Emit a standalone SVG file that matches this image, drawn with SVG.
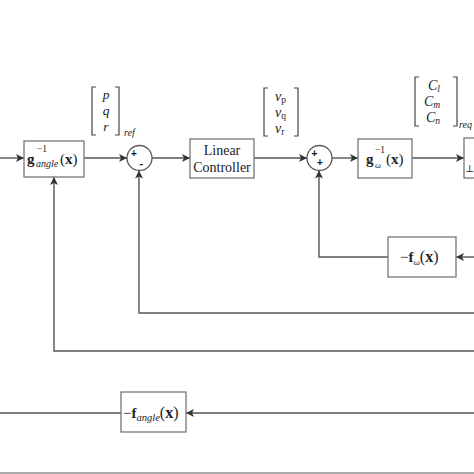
<svg xmlns="http://www.w3.org/2000/svg" width="474" height="474" viewBox="0 0 474 474">
<style>
.box{fill:#fff;stroke:#777;stroke-width:1.3}
.ln{fill:none;stroke:#555;stroke-width:1.4}
.br{fill:none;stroke:#444;stroke-width:1.2}
.m{font-family:"Liberation Serif","DejaVu Serif",serif;fill:#222}
.i{font-style:italic}
.b{font-weight:bold}
.s{font-family:"Liberation Sans",Arial,sans-serif;fill:#111;font-weight:bold}
</style>
<defs>
<marker id="ah" viewBox="0 0 10 10" refX="10" refY="5" markerWidth="9" markerHeight="8" markerUnits="userSpaceOnUse" orient="auto">
<path d="M0,0 L10,5 L0,10 L2.5,5 Z" fill="#333"/>
</marker>
</defs>
<rect width="474" height="474" fill="#fff"/>
<g id="connectors">
<path class="ln" d="M0,158 H24" marker-end="url(#ah)"/>
<path class="ln" d="M84,158 H127" marker-end="url(#ah)"/>
<path class="ln" d="M152,158 H190" marker-end="url(#ah)"/>
<path class="ln" d="M254,158 H307" marker-end="url(#ah)"/>
<path class="ln" d="M332,158 H358" marker-end="url(#ah)"/>
<path class="ln" d="M412,158 H464" marker-end="url(#ah)"/>
<path class="ln" d="M474,257 H456" marker-end="url(#ah)"/>
<path class="ln" d="M388,257 H319 V170.5" marker-end="url(#ah)"/>
<path class="ln" d="M474,313 H139 V170.5" marker-end="url(#ah)"/>
<path class="ln" d="M474,351 H54 V177" marker-end="url(#ah)"/>
<path class="ln" d="M474,413 H186" marker-end="url(#ah)"/>
<path class="ln" d="M121,413 H0"/>
</g>
<g id="g_angle">
<rect class="box" x="24" y="141" width="60" height="36"/>
<text class="m"><tspan class="b" x="27" y="164" font-size="15">g</tspan><tspan x="37" y="152" font-size="9.5">−1</tspan><tspan class="i" x="36" y="167" font-size="10">angle</tspan><tspan x="60" y="164" font-size="15">(</tspan><tspan class="b" font-size="15">x</tspan><tspan font-size="15">)</tspan></text>
</g>
<g id="vec_pqr">
<path class="br" d="M96,87 H92 V135 H96 M115,87 H119 V135 H115"/>
<text class="m i" font-size="13.5" text-anchor="middle"><tspan x="106" y="99">p</tspan><tspan x="106" y="115">q</tspan><tspan x="106" y="131">r</tspan></text>
<text class="m i" x="124" y="136" font-size="10">ref</text>
</g>
<g id="sum1">
<circle cx="139.5" cy="158" r="12.5" fill="#fff" stroke="#555" stroke-width="1.3"/>
<text class="s" x="131" y="157" font-size="10">+</text>
<text class="s" x="139.5" y="167" font-size="11">-</text>
</g>
<g id="linear_controller">
<rect class="box" x="190" y="139" width="64" height="39"/>
<text class="m" font-size="14" text-anchor="middle"><tspan x="222" y="155">Linear</tspan><tspan x="222" y="172">Controller</tspan></text>
</g>
<g id="vec_nu">
<path class="br" d="M268,88 H264 V136 H268 M294,88 H298 V136 H294"/>
<text class="m i" font-size="14"><tspan x="275" y="101">ν</tspan><tspan font-size="9.5" font-style="normal" dy="2">p</tspan><tspan x="275" y="117">ν</tspan><tspan font-size="9.5" font-style="normal" dy="2">q</tspan><tspan x="275" y="133">ν</tspan><tspan font-size="9.5" font-style="normal" dy="2">r</tspan></text>
</g>
<g id="sum2">
<circle cx="319.5" cy="158" r="12.5" fill="#fff" stroke="#555" stroke-width="1.3"/>
<text class="s" x="311.5" y="157" font-size="10">+</text>
<text class="s" x="317" y="166" font-size="10">+</text>
</g>
<g id="g_omega">
<rect class="box" x="358" y="139" width="54" height="39"/>
<text class="m"><tspan class="b" x="366" y="164" font-size="15">g</tspan><tspan class="i" x="375" y="168" font-size="8.5">ω</tspan><tspan x="375" y="153" font-size="9.5">−1</tspan><tspan x="386" y="164" font-size="15">(</tspan><tspan class="b" font-size="15">x</tspan><tspan font-size="15">)</tspan></text>
</g>
<g id="vec_C">
<path class="br" d="M419,77 H415 V126 H419 M453,77 H457 V126 H453"/>
<text class="m i" font-size="14"><tspan x="428" y="90">C</tspan><tspan font-size="9.5" dy="2">l</tspan><tspan x="424" y="106">C</tspan><tspan font-size="9.5" dy="2">m</tspan><tspan x="426" y="122">C</tspan><tspan font-size="9.5" dy="2">n</tspan></text>
<text class="m i" x="459" y="128" font-size="10">req</text>
</g>
<g id="right_block">
<rect class="box" x="464" y="138" width="20" height="40"/>
<text class="m" x="465" y="172" font-size="10">⊥</text>
</g>
<g id="f_omega">
<rect class="box" x="388" y="237" width="68" height="40"/>
<text class="m" y="262"><tspan x="400" font-size="15">−</tspan><tspan class="b" font-size="15">f</tspan><tspan class="i" font-size="9" dy="3">ω</tspan><tspan font-size="16" dy="-3">(</tspan><tspan class="b" font-size="16">x</tspan><tspan font-size="16">)</tspan></text>
</g>
<g id="f_angle">
<rect class="box" x="121" y="392" width="65" height="40"/>
<text class="m" y="418"><tspan x="123" font-size="15">−</tspan><tspan class="b" font-size="15">f</tspan><tspan class="i" font-size="10.5" dy="3">angle</tspan><tspan font-size="16" dy="-3">(</tspan><tspan class="b" font-size="16">x</tspan><tspan font-size="16">)</tspan></text>
</g>
<rect x="0" y="472" width="474" height="2" fill="#aaa"/>
</svg>
